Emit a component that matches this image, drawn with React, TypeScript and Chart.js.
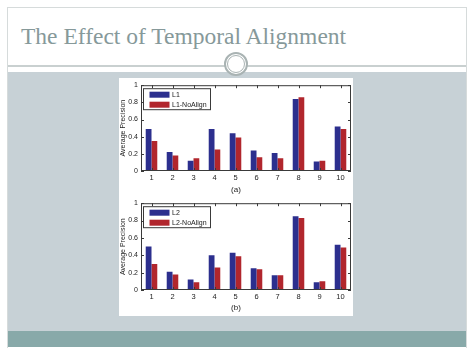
import React, { useEffect, useRef } from "react";
import { Chart, registerables } from "chart.js";

Chart.register(...registerables);

const categories = ["1", "2", "3", "4", "5", "6", "7", "8", "9", "10"];
const aL1 = [0.49, 0.22, 0.12, 0.49, 0.44, 0.24, 0.21, 0.84, 0.11, 0.52];
const aL1NoAlign = [0.35, 0.18, 0.15, 0.25, 0.39, 0.16, 0.15, 0.86, 0.12, 0.49];
const bL2 = [0.5, 0.21, 0.12, 0.4, 0.43, 0.25, 0.17, 0.85, 0.09, 0.52];
const bL2NoAlign = [0.3, 0.18, 0.09, 0.26, 0.39, 0.24, 0.17, 0.83, 0.1, 0.49];
const yTickValues = [0, 0.2, 0.4, 0.6, 0.8, 1];

const BLUE = "#2c2f8e";
const RED = "#b1262d";
const FONT = "'Liberation Sans', Arial, sans-serif";

const boxTicksPlugin = {
  id: "boxTicks",
  afterDatasetsDraw(chart: any) {
    const { ctx, chartArea, scales } = chart;
    const { left, right, top, bottom } = chartArea;
    ctx.save();
    ctx.strokeStyle = "#3a3a3a";
    ctx.lineWidth = 1;
    ctx.strokeRect(left + 0.5, top + 0.5, right - left - 1, bottom - top - 1);
    ctx.beginPath();
    const n = chart.data.labels.length;
    for (let i = 0; i < n; i++) {
      const px = Math.round(scales.x.getPixelForValue(i)) + 0.5;
      ctx.moveTo(px, bottom);
      ctx.lineTo(px, bottom - 3);
      ctx.moveTo(px, top);
      ctx.lineTo(px, top + 3);
    }
    yTickValues.forEach((v) => {
      const py = Math.round(scales.y.getPixelForValue(v)) + 0.5;
      ctx.moveTo(left, py);
      ctx.lineTo(left + 3, py);
      ctx.moveTo(right, py);
      ctx.lineTo(right - 3, py);
    });
    ctx.stroke();

    // legend
    const names: string[] = chart.data.datasets.map((d: any) => d.label);
    const colors: string[] = chart.data.datasets.map((d: any) => d.backgroundColor);
    const bx = left + 2.5;
    const by = top + 3.5;
    const bw = 67;
    const bh = 21;
    ctx.fillStyle = "#ffffff";
    ctx.fillRect(bx, by, bw, bh);
    ctx.strokeStyle = "#3a3a3a";
    ctx.strokeRect(bx, by, bw, bh);
    ctx.font = `7px ${FONT}`;
    ctx.textBaseline = "middle";
    names.forEach((name, i) => {
      const cy = by + 6 + i * 10;
      ctx.fillStyle = colors[i];
      ctx.fillRect(bx + 6, cy - 3, 20, 6);
      ctx.fillStyle = "#1a1a1a";
      ctx.fillText(name, bx + 28.5, cy);
    });
    ctx.restore();
  },
};

function BarPanel(props: {
  s1: number[];
  s2: number[];
  n1: string;
  n2: string;
  top: number;
  height: number;
  padTop: number;
  xHeight: number;
}) {
  const ref = useRef<HTMLCanvasElement>(null);
  useEffect(() => {
    const chart = new Chart(ref.current as HTMLCanvasElement, {
      type: "bar",
      data: {
        labels: categories,
        datasets: [
          { label: props.n1, data: props.s1, backgroundColor: BLUE, borderWidth: 0 },
          { label: props.n2, data: props.s2, backgroundColor: RED, borderWidth: 0 },
        ],
      },
      options: {
        animation: false,
        responsive: false,
        maintainAspectRatio: false,
        layout: { padding: { left: 0, right: 2, top: props.padTop, bottom: 0 } },
        datasets: { bar: { categoryPercentage: 0.55, barPercentage: 1 } },
        plugins: { legend: { display: false }, tooltip: { enabled: false }, title: { display: false } },
        scales: {
          x: {
            grid: { display: false, drawTicks: false },
            border: { display: false },
            ticks: { color: "#222", font: { family: FONT, size: 7.5 }, padding: 2, maxRotation: 0 },
            afterFit: (s: any) => {
              s.height = props.xHeight;
            },
          },
          y: {
            min: 0,
            max: 1,
            grid: { display: false, drawTicks: false },
            border: { display: false },
            afterBuildTicks: (s: any) => {
              s.ticks = yTickValues.map((v) => ({ value: v }));
            },
            ticks: {
              color: "#222",
              font: { family: FONT, size: 7 },
              padding: 3,
              callback: (v: any) => (v === 0 ? "0" : v === 1 ? "1" : Number(v).toFixed(1)),
            },
            title: {
              display: true,
              text: "Average Precision",
              color: "#222",
              font: { family: FONT, size: 7 },
              padding: { top: 0, bottom: 0 },
            },
            afterFit: (s: any) => {
              s.width = 22;
            },
          },
        },
      },
      plugins: [boxTicksPlugin],
    });
    return () => chart.destroy();
  }, []);
  return (
    <canvas
      ref={ref}
      width={234}
      height={props.height}
      style={{ position: "absolute", left: 119, top: props.top, width: 234, height: props.height }}
    />
  );
}

export default function App() {
  return (
    <div
      style={{
        position: "fixed",
        left: 0,
        top: 0,
        width: 474,
        height: 355,
        background: "#ffffff",
        overflow: "hidden",
      }}
    >
      {/* slide frame */}
      <div
        style={{
          position: "absolute",
          left: 7,
          top: 7,
          width: 458,
          height: 340,
          border: "1px solid #d6dbdb",
          borderBottom: "none",
        }}
      />
      <div
        style={{
          position: "absolute",
          left: 21,
          top: 21,
          fontFamily: "'Liberation Serif', 'DejaVu Serif', serif",
          fontSize: 23.5,
          color: "#86999a",
          whiteSpace: "nowrap",
          lineHeight: "30px",
        }}
      >
        The Effect of Temporal Alignment
      </div>
      {/* divider line */}
      <div style={{ position: "absolute", left: 8, top: 65, width: 458, height: 2, background: "#c9d0d0" }} />
      {/* gray band */}
      <div style={{ position: "absolute", left: 8, top: 72, width: 458, height: 259, background: "#c7d1d6" }} />
      {/* teal band */}
      <div style={{ position: "absolute", left: 8, top: 331, width: 458, height: 16, background: "#88a9a9" }} />
      {/* circle ornament */}
      <div
        style={{
          position: "absolute",
          left: 224,
          top: 52,
          width: 20,
          height: 20,
          borderRadius: "50%",
          border: "2px solid #a9b3b3",
          background: "#ffffff",
        }}
      >
        <div
          style={{
            position: "absolute",
            left: 1,
            top: 1,
            width: 16,
            height: 16,
            borderRadius: "50%",
            border: "1px solid #a9b3b3",
          }}
        />
      </div>
      {/* white figure box */}
      <div style={{ position: "absolute", left: 119, top: 78, width: 234, height: 238, background: "#ffffff" }} />
      <BarPanel s1={aL1} s2={aL1NoAlign} n1="L1" n2="L1-NoAlign" top={78} height={118} padTop={7} xHeight={25} />
      <BarPanel s1={bL2} s2={bL2NoAlign} n1="L2" n2="L2-NoAlign" top={196} height={120} padTop={5} xHeight={26} />
      <div
        style={{
          position: "absolute",
          left: 119,
          width: 234,
          top: 185,
          textAlign: "center",
          fontFamily: FONT,
          fontSize: 8,
          color: "#222",
        }}
      >
        (a)
      </div>
      <div
        style={{
          position: "absolute",
          left: 119,
          width: 234,
          top: 303,
          textAlign: "center",
          fontFamily: FONT,
          fontSize: 8,
          color: "#222",
        }}
      >
        (b)
      </div>
    </div>
  );
}
